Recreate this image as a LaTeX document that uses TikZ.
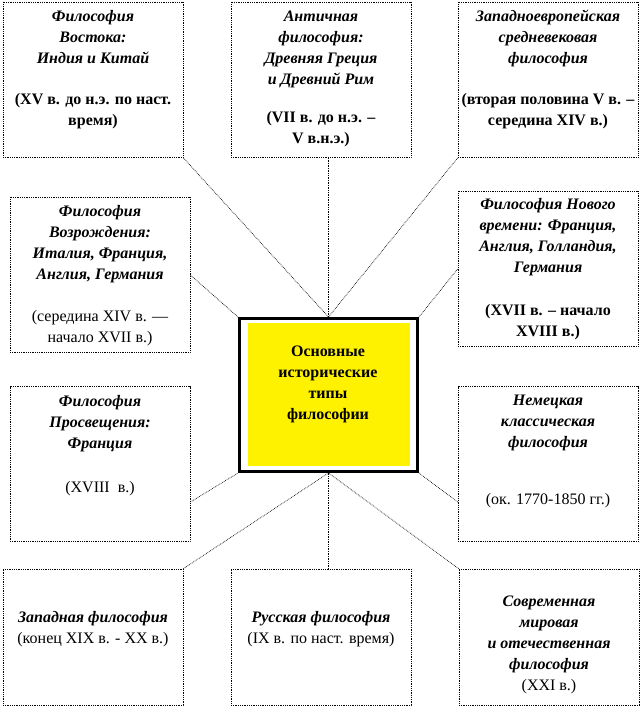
\documentclass[tikz,border=0pt]{standalone}
\usepackage{fontspec}
\setmainfont{Liberation Serif}
\begin{document}
\begin{tikzpicture}[x=1pt,y=-1pt]
\tikzstyle{box}=[draw,densely dotted,line width=0.8pt,minimum width=180pt,minimum height=155pt,inner sep=0pt]
\tikzstyle{txt}=[align=center,inner sep=0pt,anchor=north,font=\fontsize{16}{21}\selectfont\bfseries\itshape]
\tikzstyle{link}=[densely dotted,line width=0.7pt]
\useasboundingbox (0,0) rectangle (642,708);
\node[box] (tl) at (93,80) {};
\node[box] (tm) at (321,80) {};
\node[box] (tr) at (548,80) {};
\node[box] (ml1) at (100,275) {};
\node[box] (mr1) at (548,269) {};
\node[box] (ml2) at (100,464) {};
\node[box] (mr2) at (548,464) {};
\node[box,minimum height=136pt] (bl) at (93,637) {};
\node[box,minimum height=136pt] (bm) at (321,637) {};
\node[box,minimum height=136pt] (br) at (549,637) {};
\node[draw,line width=3pt,fill=white,minimum width=178pt,minimum height=153pt] (core) at (328.5,395) {};
\node[fill=yellow,minimum width=162pt,minimum height=143pt,inner sep=0pt] (coreIn) at (329,394.5) {};
\node[txt] (tlT) at (93,10) {Философия\\Востока:\\Индия и Китай\\[20pt]
  {\upshape (XV в. до н.э. по наст.}\\{\upshape время)}};
\node[txt] (tmT) at (321,11) {Античная\\философия:\\Древняя Греция\\и Древний Рим\\[17pt]
  {\upshape (VII в. до н.э. –}\\{\upshape V в.н.э.)}};
\node[txt] (trT) at (548,10) {Западноевропейская\\средневековая\\философия\\[20pt]
  {\upshape (вторая половина V в. –}\\{\upshape середина XIV в.)}};
\node[txt] (ml1T) at (100,205) {Философия\\Возрождения:\\Италия, Франция,\\Англия, Германия\\[21pt]
  {\mdseries\upshape (середина XIV в. —}\\{\mdseries\upshape начало XVII в.)}};
\node[txt] (mr1T) at (548,198) {Философия Нового\\времени: Франция,\\Англия, Голландия,\\Германия\\[22pt]
  {\upshape (XVII в. – начало}\\{\upshape XVIII в.)}};
\node[txt] (ml2T) at (100,395) {Философия\\Просвещения:\\Франция\\[23pt]
  {\mdseries\upshape (XVIII~~в.)}};
\node[txt] (mr2T) at (548,395) {Немецкая\\классическая\\философия\\[36pt]
  {\mdseries\upshape (ок. 1770-1850 гг.)}};
\node[txt] (blT) at (93,611) {Западная философия\\{\mdseries\upshape (конец XIX в. - XX в.)}};
\node[txt] (bmT) at (321,611) {Русская философия\\{\mdseries\upshape (IX в. по наст. время)}};
\node[txt] (brT) at (549,596) {Современная\\мировая\\и отечественная\\философия\\{\mdseries\upshape (XXI в.)}};
\node[txt,font=\fontsize{16}{21}\selectfont\bfseries] (coreT) at (328,346) {Основные\\исторические\\типы\\философии};
\draw[link] (tl.south east) -- (core.north);
\draw[link] (core.north |- tm.south) -- (core.north);
\draw[link] (tr.south west) -- (core.north);
\draw[link] (ml1.east) -- (core.north west);
\draw[link] (mr1.west) -- (core.north east);
\draw[link] ([yshift=-38pt]ml2.east) -- (core.south west);
\draw[link] ([yshift=-38pt]mr2.west) -- (core.south east);
\draw[link] (bl.north east) -- (core.south);
\draw[link] (core.south |- bm.north) -- (core.south);
\draw[link] (br.north west) -- (core.south);
\end{tikzpicture}
\end{document}
